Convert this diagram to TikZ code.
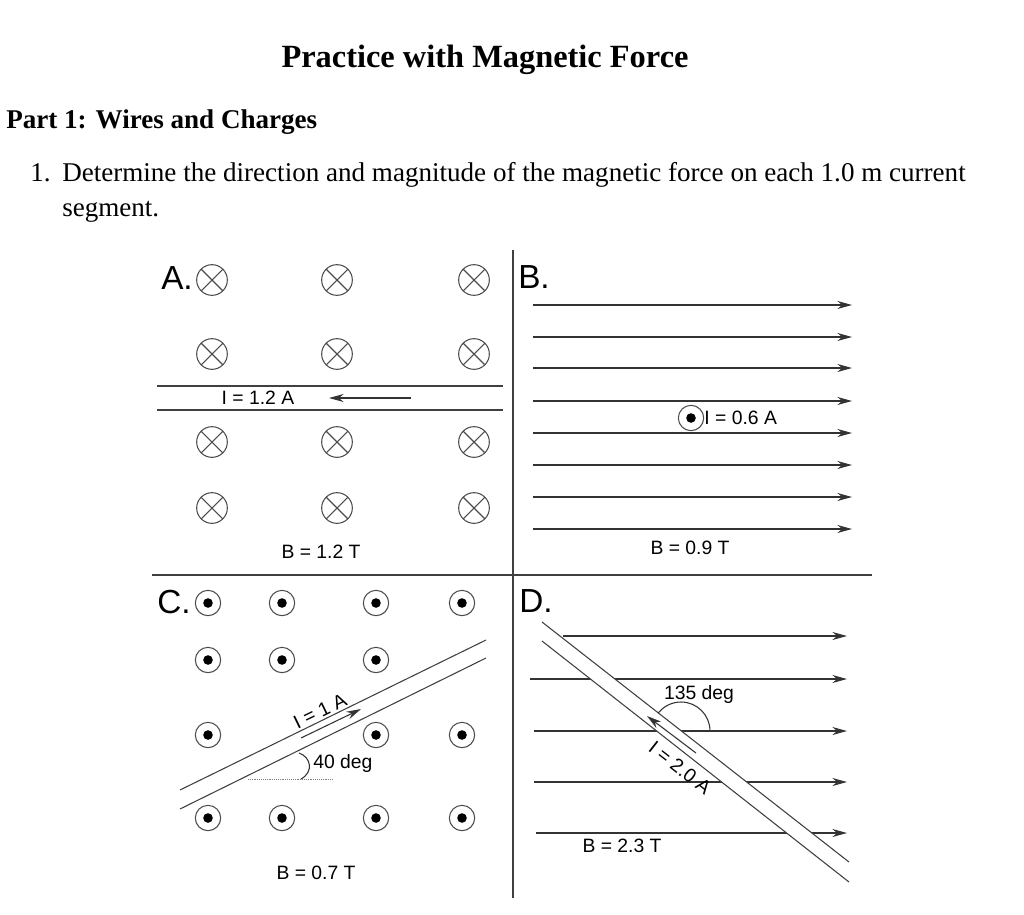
\documentclass[tikz,border=0pt]{standalone}
\usepackage{fontspec}
\setmainfont{Liberation Serif}
\setsansfont{Liberation Sans}
\usetikzlibrary{arrows.meta}
\begin{document}
\begin{tikzpicture}[x=0.75pt,y=-0.75pt,
  lab/.style={font=\sffamily\fontsize{14.5}{16}\selectfont, inner sep=0pt},
  big/.style={font=\sffamily\fontsize{25}{28}\selectfont, inner sep=0pt},
  ln/.style={draw=black!75, line width=0.8pt},
  farr/.style={draw=black!80, line width=0.8pt, -{Stealth[length=11pt,width=6pt]}},
  cross/.style={circle, draw=black!70, line width=0.8pt, minimum size=23pt, inner sep=0pt, path picture={\draw[black!70,line width=0.8pt] (path picture bounding box.center) ++(45:11.5pt) -- ++(225:23pt) (path picture bounding box.center) ++(135:11.5pt) -- ++(315:23pt);}},
  dotc/.style={circle, draw=black!70, line width=0.8pt, minimum size=19pt, inner sep=0pt, path picture={\fill (path picture bounding box.center) circle (3.6pt);}},
  body/.style={font=\fontsize{20.3}{24}\selectfont, anchor=base west, inner sep=0pt}]
\useasboundingbox (0,0) rectangle (1024,914);
\node[font=\bfseries\fontsize{24.3}{28}\selectfont] (title) at (485,60) {Practice with Magnetic Force};
\node[font=\bfseries\fontsize{20.3}{24}\selectfont, anchor=base west, inner sep=0pt] (part) at (6,128) {Part 1: Wires and Charges};
\node[body] (q1n) at (30,181) {1.};
\node[body] (q1) at (62,181) {Determine the direction and magnitude of the magnetic force on each 1.0 m current};
\node[body] (q1b) at (62,216) {segment.};
% dividers
\coordinate (vt) at (513,250); \coordinate (vb) at (513,898);
\coordinate (hl) at (152,575); \coordinate (hr) at (872,575);
\draw[ln] (vt)--(vb); \draw[ln] (hl)--(hr);
% Panel A
\node[big] (A) at (177,278) {A.};
\foreach \x in {212,337,474}{\foreach \y in {280,354,442,508}{\node[cross] at (\x,\y) {};}}
\coordinate (a1) at (157,386); \coordinate (a2) at (503,386);
\coordinate (a3) at (157,410); \coordinate (a4) at (503,410);
\draw[ln] (a1)--(a2); \draw[ln] (a3)--(a4);
\node[lab] (IA) at (258,398) {I = 1.2 A};
\coordinate (aa1) at (411,398); \coordinate (aa2) at (329,398);
\draw[farr] (aa1)--(aa2);
\node[lab] (BA) at (321,552) {B = 1.2 T};
% Panel B
\node[big] (B) at (534,277) {B.};
\foreach \y in {305,337,368,401,433,465,497,529}{\draw[farr] (533,\y)--(852,\y);}
\node[dotc] (wB) at (691,418) {};
\node[lab, anchor=west] (IB) at (wB.east) {I = 0.6 A};
\node[lab] (BB) at (690,548) {B = 0.9 T};
% Panel C
\node[big] (C) at (174,602) {C.};
\foreach \p in {(208,603),(282,603),(376,603),(462,603),(208,660),(282,660),(376,660),(208,735),(376,735),(462,735),(208,818),(282,818),(376,818),(462,818)}{\node[dotc] at \p {};}
\coordinate (c1) at (180,790); \coordinate (c2) at (486,640);
\coordinate (c3) at (180,809); \coordinate (c4) at (486,658);
\draw[ln] (c1)--(c2); \draw[ln] (c3)--(c4);
\coordinate (ca1) at (301,738); \coordinate (ca2) at (361,709);
\draw[farr] (ca1)--(ca2);
\node[lab, rotate=26] (IC) at (320,711) {I = 1 A};
\coordinate (d1) at (248,779); \coordinate (d2) at (333,779);
\draw[densely dotted, black!50] (d1)--(d2);
\draw[black!80, line width=0.8pt] (301,779) .. controls (314,772) and (311,757) .. (299,753);
\node[lab, anchor=west] (ang1) at (313,763) {40 deg};
\node[lab] (BC) at (316,873) {B = 0.7 T};
% Panel D
\node[big] (D) at (536,601) {D.};
\draw[farr] (563,636)--(847,636);
\foreach \y/\s in {679/530,731/534,782/534,833/536}{\draw[farr] (\s,\y)--(847,\y);}
\coordinate (e1) at (542,622); \coordinate (e2) at (849,862);
\coordinate (e3) at (542,641); \coordinate (e4) at (849,882);
\fill[white] (e1)--(e2)--(e4)--(e3)--cycle;
\draw[ln] (e1)--(e2); \draw[ln] (e3)--(e4);
\draw[black!80, line width=0.8pt] (710,731) arc[start angle=0, end angle=142, radius=21.75pt];
\node[lab] (ang2) at (699,694) {135 deg};
\coordinate (da1) at (696,753); \coordinate (da2) at (647,716);
\draw[farr] (da1)--(da2);
\node[lab, rotate=-38] (ID) at (680,768) {I = 2.0 A};
\node[lab] (BD) at (622,846) {B = 2.3 T};
\end{tikzpicture}
\end{document}
